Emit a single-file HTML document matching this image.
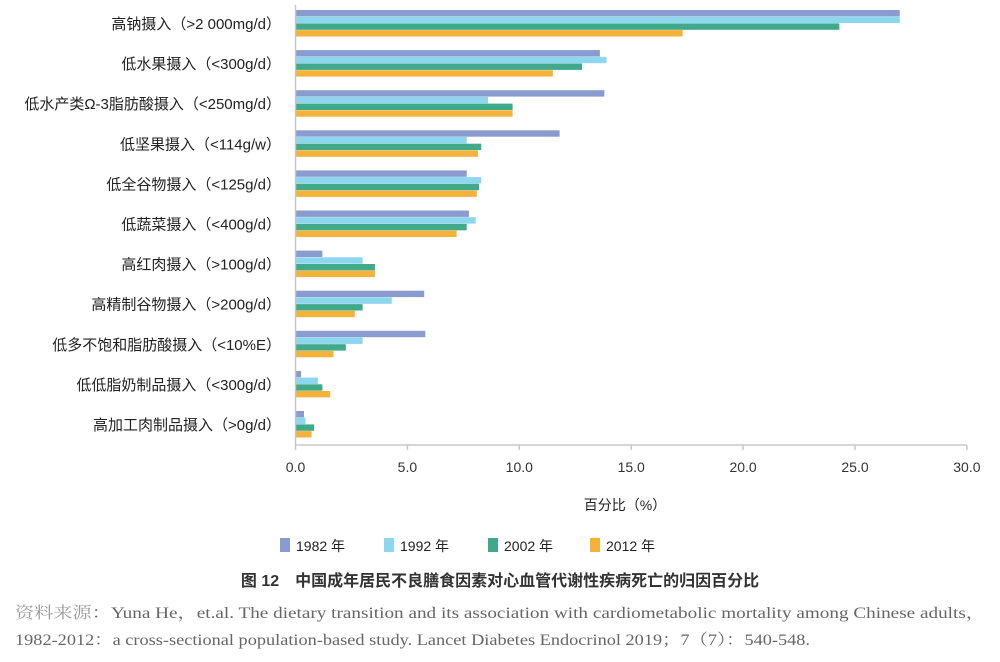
<!DOCTYPE html>
<html><head><meta charset="utf-8"><style>
html,body{margin:0;padding:0;background:#fff;width:1000px;height:662px;overflow:hidden}
svg{display:block}
text{font-family:"Liberation Sans","Noto Sans CJK SC",sans-serif}
</style></head><body>
<svg id="chart" width="1000" height="662" xmlns="http://www.w3.org/2000/svg">
<g id="bars"></g>
<g id="ylabels" font-size="15" fill="#222"></g>
<line x1="295.5" y1="5" x2="295.5" y2="445" stroke="#c8c8c8" stroke-width="1.5"/>
<line x1="295.5" y1="445" x2="967" y2="445" stroke="#c8c8c8" stroke-width="1.5"/>
<g id="xticks" font-size="14" fill="#333"></g>
<text x="625" y="510" font-size="14" fill="#222" text-anchor="middle">百分比（%）</text>
<g id="legend" font-size="14" fill="#222"></g>
<text x="500" y="586" font-size="16" font-weight="bold" fill="#333" text-anchor="middle">图 12　中国成年居民不良膳食因素对心血管代谢性疾病死亡的归因百分比</text>
<text x="15" y="618" font-size="16" fill="#666" textLength="970" lengthAdjust="spacingAndGlyphs" style="font-family:'Liberation Serif','Noto Serif CJK SC',serif"><tspan fill="#999">资料来源</tspan>：Yuna He，et.al. The dietary transition and its association with cardiometabolic mortality among Chinese adults，</text>
<text x="15" y="645" font-size="16" fill="#666" textLength="795" lengthAdjust="spacingAndGlyphs" style="font-family:'Liberation Serif','Noto Serif CJK SC',serif">1982-2012：a cross-sectional population-based study. Lancet Diabetes Endocrinol 2019；7（7）：540-548.</text>
</svg>
<script>
const categories=["高钠摄入（>2 000mg/d）","低水果摄入（<300g/d）","低水产类Ω-3脂肪酸摄入（<250mg/d）","低坚果摄入（<114g/w）","低全谷物摄入（<125g/d）","低蔬菜摄入（<400g/d）","高红肉摄入（>100g/d）","高精制谷物摄入（>200g/d）","低多不饱和脂肪酸摄入（<10%E）","低低脂奶制品摄入（<300g/d）","高加工肉制品摄入（>0g/d）"];
const years=["1982 年","1992 年","2002 年","2012 年"];
const v1982=[27.0,13.6,13.8,11.8,7.65,7.75,1.2,5.75,5.8,0.25,0.38];
const v1992=[27.0,13.9,8.6,7.65,8.3,8.05,3.0,4.3,3.0,1.0,0.45];
const v2002=[24.3,12.8,9.7,8.3,8.2,7.65,3.55,3.0,2.25,1.2,0.83];
const v2012=[17.3,11.5,9.7,8.15,8.1,7.2,3.55,2.65,1.7,1.55,0.72];
const xTicks=[0,5,10,15,20,25,30];
const colors=["#8a9bd0","#8cd6ee","#3fa98a","#f4b23a"];
const series=[v1982,v1992,v2002,v2012];
const NS="http://www.w3.org/2000/svg";
const x=v=>295.5+v*22.38;
const gy=i=>10+i*40.1;
const bars=document.getElementById('bars');
series.forEach((s,k)=>s.forEach((v,i)=>{
 const r=document.createElementNS(NS,'rect');
 r.setAttribute('x',x(0));r.setAttribute('y',gy(i)+k*6.7);
 r.setAttribute('width',Math.max(0,x(v)-x(0)));r.setAttribute('height',6.4);
 r.setAttribute('fill',colors[k]);
 
 
 bars.appendChild(r);
}));
const yl=document.getElementById('ylabels');
categories.forEach((c,i)=>{
 const t=document.createElementNS(NS,'text');
 t.setAttribute('x',281);t.setAttribute('y',gy(i)+19);t.setAttribute('text-anchor','end');
 t.textContent=c;
 
 
 yl.appendChild(t);
});
const xt=document.getElementById('xticks');
xTicks.forEach(v=>{
 const l=document.createElementNS(NS,'line');
 l.setAttribute('x1',x(v));l.setAttribute('x2',x(v));l.setAttribute('y1',445);l.setAttribute('y2',450);
 l.setAttribute('stroke','#c8c8c8');l.setAttribute('stroke-width','1.5');
 
 
 xt.appendChild(l);
 const t=document.createElementNS(NS,'text');
 t.setAttribute('x',x(v));t.setAttribute('y',472);t.setAttribute('text-anchor','middle');
 t.textContent=v.toFixed(1);
 
 
 xt.appendChild(t);
});
const lg=document.getElementById('legend');
const lx=[280,384,488,590];
years.forEach((y,k)=>{
 const g=document.createElementNS(NS,'g');
 
 
 const r=document.createElementNS(NS,'rect');
 r.setAttribute('x',lx[k]);r.setAttribute('y',538);r.setAttribute('width',10);r.setAttribute('height',14);r.setAttribute('fill',colors[k]);
 g.appendChild(r);
 const t=document.createElementNS(NS,'text');
 t.setAttribute('x',lx[k]+16);t.setAttribute('y',551);t.textContent=y;
 g.appendChild(t);
 lg.appendChild(g);
});
</script>
</body></html>
